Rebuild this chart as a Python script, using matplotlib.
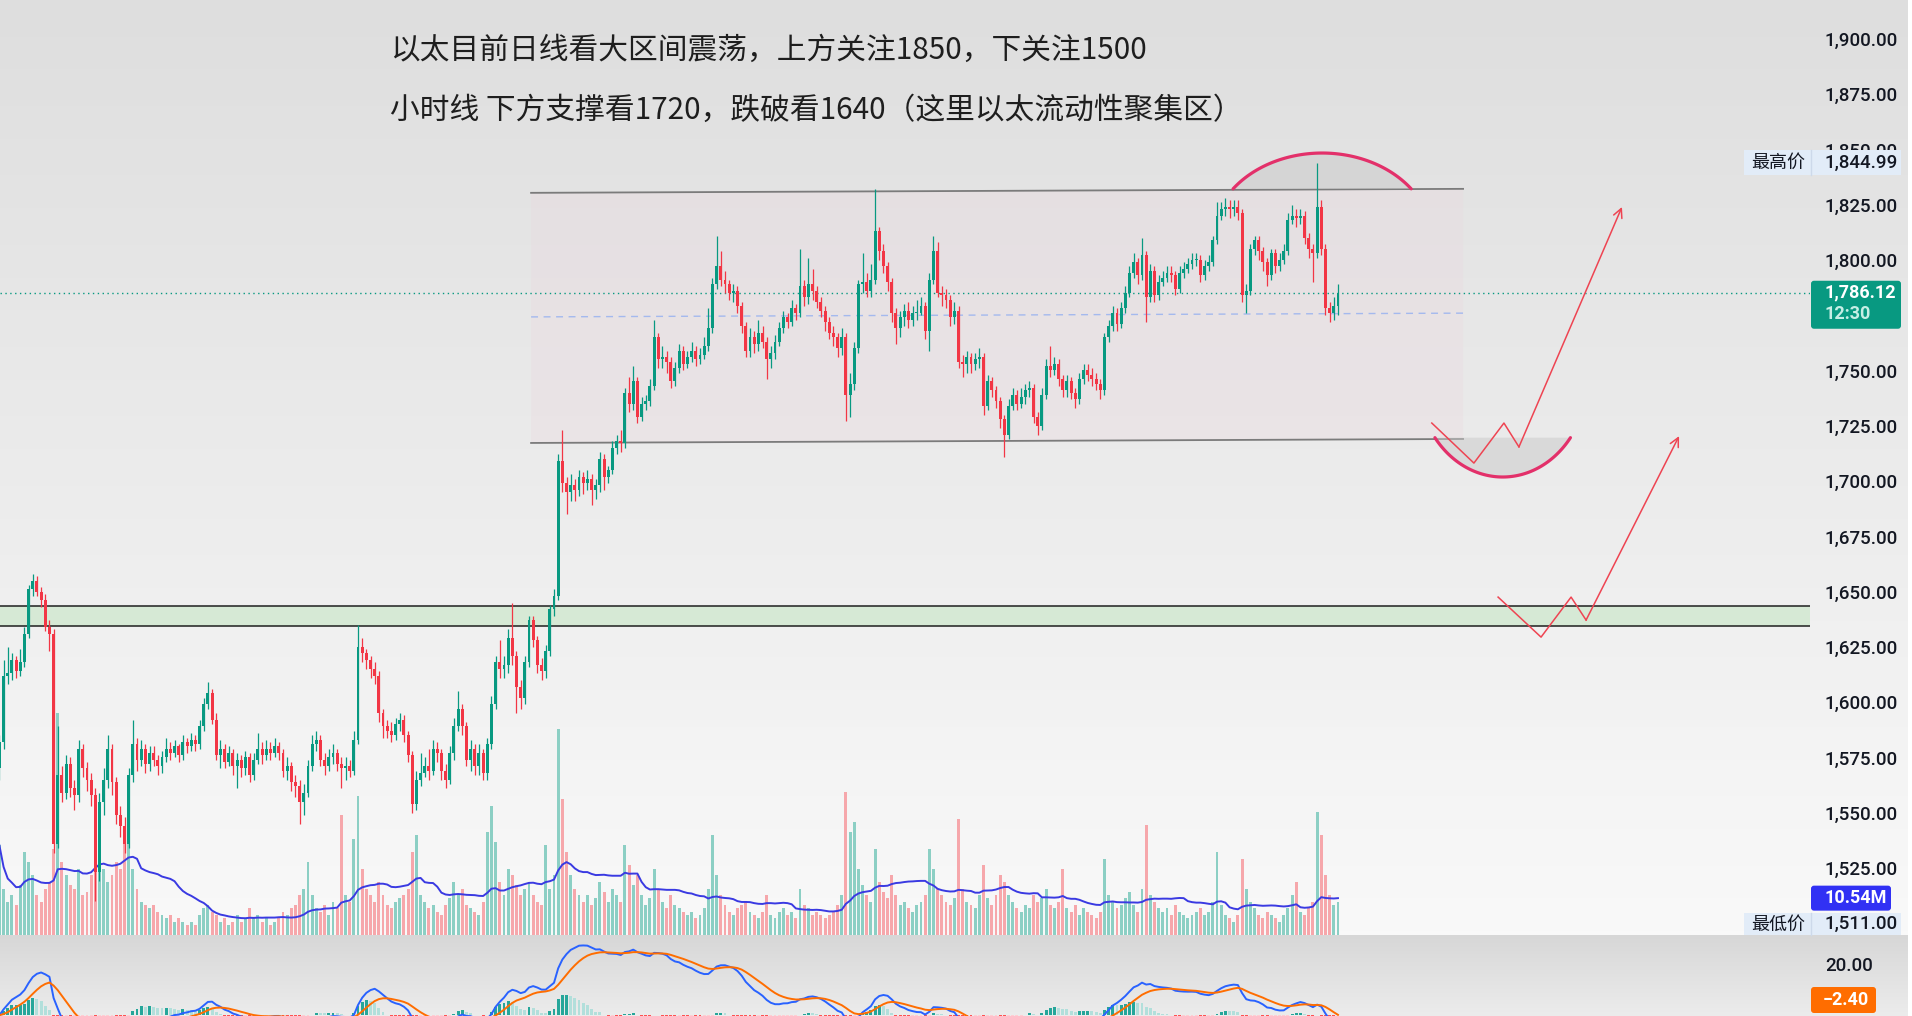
import numpy as np
import pandas as pd
import matplotlib
matplotlib.use('Agg')
from matplotlib import pyplot as plt
from matplotlib.colors import LinearSegmentedColormap
from matplotlib.patches import Rectangle, Polygon, FancyBboxPatch

plt.rcParams['font.family'] = ['Noto Sans CJK SC', 'DejaVu Sans']

# ETH/USDT 1h candles, open of each bar = previous close
first_open = 1571
closes = [
    1583, 1613, 1614, 1620, 1615, 1619, 1632, 1652, 1656, 1651,
    1647, 1635, 1632, 1537, 1568, 1560, 1573, 1562, 1559, 1580,
    1571, 1566, 1559, 1524, 1556, 1566, 1580, 1565, 1550, 1545,
    1537, 1568, 1582, 1575, 1580, 1573, 1578, 1575, 1572, 1576,
    1580, 1578, 1581, 1577, 1583, 1581, 1584, 1582, 1590, 1600,
    1605, 1593, 1577, 1580, 1574, 1578, 1572, 1575, 1571, 1576,
    1568, 1575, 1580, 1577, 1580, 1578, 1581, 1578, 1570, 1572,
    1565, 1563, 1556, 1560, 1572, 1582, 1584, 1575, 1572, 1576,
    1578, 1573, 1571, 1572, 1570, 1584, 1626, 1623, 1620, 1616,
    1613, 1596, 1590, 1588, 1586, 1591, 1593, 1586, 1577, 1555,
    1566, 1569, 1572, 1570, 1580, 1578, 1570, 1566, 1578, 1590,
    1598, 1590, 1575, 1580, 1572, 1578, 1569, 1582, 1600, 1619,
    1616, 1618, 1630, 1622, 1608, 1603, 1619, 1638, 1629, 1618,
    1615, 1624, 1643, 1649, 1710, 1700, 1696, 1699, 1697, 1703,
    1700, 1702, 1697, 1699, 1711, 1703, 1706, 1716, 1719, 1718,
    1741, 1736, 1746, 1730, 1736, 1737, 1744, 1766, 1756, 1757,
    1755, 1746, 1752, 1760, 1754, 1757, 1760, 1756, 1758, 1762,
    1770, 1790, 1798, 1792, 1790, 1786, 1787, 1780, 1771, 1760,
    1766, 1763, 1768, 1764, 1756, 1759, 1764, 1770, 1775, 1773,
    1779, 1777, 1789, 1784, 1790, 1787, 1782, 1778, 1773, 1768,
    1766, 1761, 1766, 1740, 1745, 1761, 1790, 1791, 1787, 1792,
    1814, 1805, 1798, 1791, 1777, 1770, 1775, 1778, 1774, 1777,
    1777, 1780, 1769, 1792, 1805, 1786, 1785, 1783, 1775, 1778,
    1755, 1754, 1757, 1754, 1756, 1757, 1735, 1746, 1742, 1737,
    1729, 1722, 1735, 1740, 1736, 1739, 1742, 1743, 1730, 1726,
    1740, 1753, 1751, 1754, 1747, 1742, 1746, 1741, 1738, 1747,
    1751, 1749, 1747, 1745, 1742, 1766, 1771, 1777, 1772, 1779,
    1786, 1795, 1800, 1794, 1803, 1784, 1796, 1785, 1791, 1793,
    1795, 1794, 1788, 1795, 1797, 1799, 1801, 1801, 1794, 1798,
    1800, 1810, 1821, 1824, 1825, 1824, 1825, 1822, 1785, 1787,
    1806, 1810, 1805, 1800, 1794, 1804, 1798, 1801, 1805, 1819,
    1821, 1820, 1821, 1811, 1806, 1804, 1825, 1806, 1779, 1777,
    1780, 1786.12]
highs = [
    1586, 1620, 1626, 1623, 1622, 1625, 1635, 1654, 1659, 1658,
    1653, 1650, 1638, 1634, 1590, 1572, 1577, 1576, 1566, 1584,
    1582, 1574, 1569, 1562, 1560, 1571, 1586, 1582, 1567, 1554,
    1549, 1571, 1593, 1585, 1584, 1582, 1581, 1581, 1577, 1579,
    1585, 1583, 1584, 1582, 1586, 1585, 1587, 1586, 1593, 1603,
    1610, 1607, 1596, 1584, 1582, 1581, 1580, 1578, 1577, 1579,
    1578, 1578, 1587, 1583, 1584, 1583, 1585, 1583, 1580, 1576,
    1574, 1568, 1566, 1564, 1575, 1586, 1588, 1586, 1578, 1580,
    1582, 1580, 1576, 1576, 1575, 1588, 1636, 1630, 1625, 1622,
    1619, 1615, 1598, 1593, 1592, 1594, 1596, 1595, 1588, 1579,
    1570, 1578, 1576, 1580, 1584, 1583, 1580, 1573, 1581, 1594,
    1606, 1600, 1592, 1584, 1582, 1582, 1580, 1585, 1604, 1622,
    1629, 1622, 1634, 1646, 1624, 1611, 1622, 1640, 1640, 1631,
    1621, 1627, 1645, 1652, 1713, 1724, 1703, 1704, 1702, 1706,
    1705, 1706, 1704, 1702, 1714, 1713, 1708, 1719, 1722, 1724,
    1743, 1748, 1753, 1748, 1739, 1740, 1747, 1774, 1768, 1762,
    1760, 1757, 1755, 1763, 1762, 1760, 1764, 1762, 1761, 1766,
    1779, 1793, 1812, 1805, 1796, 1792, 1790, 1789, 1782, 1773,
    1770, 1769, 1774, 1771, 1766, 1762, 1767, 1773, 1778, 1777,
    1783, 1781, 1806, 1792, 1802, 1797, 1789, 1784, 1780, 1775,
    1771, 1768, 1770, 1768, 1750, 1764, 1792, 1804, 1795, 1799,
    1833, 1816, 1808, 1800, 1793, 1779, 1778, 1781, 1782, 1780,
    1783, 1784, 1782, 1795, 1812, 1809, 1789, 1788, 1785, 1782,
    1780, 1758, 1760, 1759, 1759, 1761, 1759, 1749, 1748, 1744,
    1739, 1731, 1738, 1743, 1742, 1743, 1745, 1746, 1745, 1732,
    1743, 1756, 1762, 1757, 1756, 1749, 1749, 1748, 1743, 1750,
    1754, 1754, 1752, 1750, 1747, 1768, 1774, 1780, 1779, 1782,
    1789, 1798, 1804, 1802, 1811, 1805, 1799, 1798, 1794, 1796,
    1798, 1798, 1796, 1798, 1800, 1802, 1804, 1804, 1803, 1801,
    1803, 1812, 1827, 1827, 1829, 1828, 1828, 1828, 1824, 1790,
    1808, 1812, 1812, 1807, 1802, 1806, 1806, 1804, 1808, 1822,
    1826, 1824, 1824, 1823, 1813, 1808, 1844.99, 1828, 1808, 1782,
    1784, 1790]
lows = [
    1566, 1580, 1609, 1611, 1612, 1613, 1617, 1630, 1649, 1649,
    1644, 1633, 1624, 1533, 1535, 1556, 1557, 1558, 1552, 1556,
    1567, 1561, 1554, 1511, 1520, 1550, 1562, 1559, 1546, 1540,
    1533, 1535, 1565, 1570, 1572, 1569, 1570, 1572, 1568, 1569,
    1574, 1575, 1576, 1574, 1575, 1578, 1579, 1579, 1580, 1588,
    1598, 1591, 1575, 1571, 1571, 1572, 1568, 1562, 1567, 1568,
    1565, 1566, 1573, 1573, 1575, 1575, 1576, 1575, 1567, 1566,
    1561, 1558, 1546, 1550, 1558, 1570, 1579, 1572, 1568, 1570,
    1573, 1570, 1562, 1566, 1567, 1568, 1582, 1619, 1616, 1612,
    1609, 1592, 1585, 1585, 1583, 1584, 1588, 1583, 1574, 1551,
    1552, 1563, 1567, 1566, 1568, 1574, 1566, 1562, 1564, 1575,
    1588, 1586, 1572, 1570, 1568, 1568, 1566, 1566, 1580, 1598,
    1612, 1612, 1614, 1618, 1596, 1598, 1600, 1617, 1626, 1614,
    1611, 1612, 1622, 1640, 1647, 1696, 1686, 1692, 1692, 1694,
    1695, 1697, 1690, 1693, 1696, 1697, 1700, 1704, 1713, 1714,
    1716, 1732, 1733, 1727, 1728, 1733, 1735, 1742, 1752, 1752,
    1750, 1743, 1744, 1750, 1751, 1752, 1755, 1753, 1754, 1756,
    1760, 1768, 1788, 1789, 1786, 1783, 1782, 1777, 1768, 1757,
    1757, 1759, 1760, 1761, 1747, 1752, 1756, 1762, 1768, 1770,
    1771, 1774, 1775, 1780, 1781, 1783, 1779, 1775, 1769, 1765,
    1762, 1757, 1758, 1728, 1730, 1742, 1759, 1786, 1784, 1784,
    1790, 1801, 1795, 1787, 1773, 1763, 1766, 1771, 1770, 1771,
    1774, 1776, 1765, 1760, 1790, 1784, 1780, 1779, 1771, 1772,
    1752, 1748, 1750, 1750, 1751, 1752, 1731, 1733, 1739, 1734,
    1725, 1712, 1720, 1733, 1733, 1734, 1736, 1739, 1727, 1722,
    1724, 1738, 1748, 1749, 1744, 1739, 1739, 1738, 1734, 1736,
    1745, 1746, 1744, 1742, 1738, 1740, 1764, 1769, 1769, 1770,
    1777, 1784, 1793, 1790, 1792, 1773, 1782, 1782, 1783, 1789,
    1791, 1791, 1785, 1786, 1793, 1795, 1797, 1798, 1791, 1792,
    1796, 1798, 1808, 1819, 1821, 1820, 1821, 1819, 1782, 1777,
    1785, 1803, 1801, 1796, 1789, 1792, 1795, 1796, 1799, 1803,
    1817, 1816, 1817, 1808, 1802, 1791, 1802, 1803, 1776, 1773,
    1774, 1776]
# volume in millions
volumes = [
    27, 14, 10, 12, 9, 15, 25, 22, 18, 12, 10, 14, 16,
    26, 67, 22, 18, 15, 14, 20, 12, 13, 18, 38, 30, 20, 16, 18, 22, 20, 29, 33, 20, 14, 10, 9, 8,
    9, 7, 6, 5, 6, 4, 5, 4, 3, 4, 3,
    6, 8, 9, 7, 6, 4, 5, 3, 4,
    6, 4, 5, 8, 5, 6, 4, 5, 3, 4, 5, 7, 6, 8,
    9, 12, 14, 22, 12, 8, 7, 9, 6, 10, 8, 36,
    12, 10, 29, 42, 20, 14, 12, 10, 16, 12, 9, 8, 10, 11,
    12, 14, 25, 30, 12, 10, 8, 9, 7, 6, 9, 11, 16, 12, 14, 9, 8, 7, 6, 10,
    31, 39, 28, 16, 12, 20, 18, 15, 12, 14, 16, 12, 10, 9, 27, 14, 18,
    62, 41, 25, 18, 14, 12, 10, 12, 9, 11, 16, 13, 10, 14, 12, 10, 27, 21, 15, 18, 12, 9, 11, 20, 14, 10, 8, 12,
    9, 8, 7, 6, 7, 5, 6, 8, 14, 30, 18, 12, 9, 7,
    6, 8, 9, 10, 7, 6, 5, 7, 12, 6, 5, 7, 8, 6, 7, 5, 14, 9, 8, 6, 7, 6, 5, 6, 7,
    9, 12, 43, 31, 34, 20, 15, 12, 10, 26, 16, 13, 11, 18, 12,
    9, 10, 8, 7, 9, 10, 12, 26, 20, 14, 12, 10, 9, 11, 35, 14, 10, 9, 8, 12, 21, 11, 9, 12, 18,
    16, 12, 10, 8, 7, 9, 8, 12, 10, 11, 14, 9, 8, 10, 20,
    8, 7, 9, 6, 8, 7, 6, 5, 7, 23, 12, 10, 8, 9, 11, 13, 9, 7, 14, 33,
    12, 10, 8, 7, 8, 6, 9, 7, 6, 5, 6, 7, 8, 6, 7,
    10, 25, 9, 6, 5, 4, 6, 23, 14, 10, 8, 6, 5, 7, 6,
    5, 4, 6, 8, 12, 16, 7, 6, 8, 10, 37, 30, 18, 12, 9, 10]

assert len(closes) == len(highs) == len(lows) == len(volumes) == 322

# 1775 sits under the last-price tag, so the scale does not show it
price_ticks = [1900, 1875, 1850, 1825, 1800, 1750, 1725, 1700,
               1675, 1650, 1625, 1600, 1575, 1550, 1525]
last_price = 1786.12
high_price = 1844.99
low_label = '1,511.00'
vol_ma_label = '10.54M'
macd_tick = 20
macd_last_label = '\u22122.40'
countdown = '12:30'

# drawings (x in bar index, y in price)
zone_lo, zone_hi = 1635.3, 1644.3
box_x = [127.5, 351.0]
box_top = [1831.3, 1833.1]
box_bottom = [1718.2, 1720.0]
box_mid = [1775.2, 1776.9]
arrow1_x = [343.5, 353.6, 360.8, 364.4, 389.1]
arrow1_y = [1727.2, 1709.1, 1727.2, 1716.4, 1824.9]
arrow2_x = [359.4, 369.7, 376.9, 380.5, 402.8]
arrow2_y = [1648.5, 1630.4, 1648.5, 1638.1, 1721.3]
title_lines = ['以太目前日线看大区间震荡，上方关注1850，下关注1500',
               '小时线 下方支撑看1720，跌破看1640（这里以太流动性聚集区）']

UP = '#089981'
DOWN = '#f23645'
W, H = 1912, 1016
PLOT_W = 1810
MAIN_BOTTOM = 81
SCALE_FONT = dict(family=['Roboto', 'DejaVu Sans'], fontsize=13.5, weight='medium')
TAG_FONT = dict(family=['Roboto', 'DejaVu Sans'], fontsize=13, weight='bold')

fig = plt.figure(figsize=(W / 100, H / 100), dpi=100)

# background gradient
bg = fig.add_axes([0, 0, 1, 1], zorder=-10)
bg.set_xlim(0, W)
bg.set_ylim(0, H)
bg.axis('off')
grad = np.linspace(0, 1, 256)[:, None]
bg.imshow(grad, extent=(0, W, MAIN_BOTTOM, H), origin='lower', aspect='auto',
          cmap=LinearSegmentedColormap.from_list('m', ['#f9f9f9', '#dedede']))
bg.imshow(grad, extent=(0, W, 0, MAIN_BOTTOM), origin='lower', aspect='auto',
          cmap=LinearSegmentedColormap.from_list('s', ['#ececec', '#d7d7d7']))
bg.add_patch(Rectangle((1908, 0), 4, H, color='white', lw=0))

rect_main = [0, MAIN_BOTTOM / H, PLOT_W / W, (H - MAIN_BOTTOM) / H]
xlim = (0.6 / 4.17, (PLOT_W + 0.6) / 4.17)

axv = fig.add_axes(rect_main, zorder=1)
ax = fig.add_axes(rect_main, zorder=2)
axm = fig.add_axes([0, 0, PLOT_W / W, MAIN_BOTTOM / H], zorder=2)
for a in (axv, ax, axm):
    a.set_facecolor('none')
    a.set_xlim(*xlim)
    a.axis('off')

ax.set_ylim(1495.7, 1918.5)

idx = np.arange(len(closes))
c = np.array(closes, float)
o = np.concatenate([[first_open], c[:-1]])
hi = np.maximum(np.array(highs, float), np.maximum(o, c))
lo = np.minimum(np.array(lows, float), np.minimum(o, c))
up = c >= o
col = np.where(up, UP, DOWN)

# zones and box
ax.axhspan(zone_lo, zone_hi, color='#d6e9d5', lw=0, zorder=1)
ax.axhline(zone_lo, color='#1f1f1f', lw=1.1, zorder=1.5)
ax.axhline(zone_hi, color='#1f1f1f', lw=1.1, zorder=1.5)
ax.add_patch(Polygon([(box_x[0], box_top[0]), (box_x[1], box_top[1]),
                      (box_x[1], box_bottom[1]), (box_x[0], box_bottom[0])],
                     closed=True, facecolor=(0.92, 0.84, 0.87, 0.28), lw=0, zorder=1))
ax.plot(box_x, box_top, color='#7b7b7b', lw=1.3, zorder=2)
ax.plot(box_x, box_bottom, color='#7b7b7b', lw=1.3, zorder=2)
ax.plot(box_x, box_mid, color='#a4b9ee', lw=1.0, ls=(0, (5, 4)), zorder=2)
ax.axhline(last_price, color=UP, lw=1.0, ls=(0, (1, 2.5)), zorder=2)

# candles
ax.vlines(idx, lo, hi, colors=col, lw=0.9, zorder=3)
ax.bar(idx, np.maximum(np.abs(c - o), 0.45), bottom=np.minimum(o, c), width=0.7,
       color=col, lw=0, zorder=4)

# arcs
t = np.radians(np.linspace(36, 144, 80))
ax_x = 317.2 + 26.4 * np.cos(t)
ax_y = 1810.0 + 39.3 * np.sin(t)
ax.fill(ax_x, ax_y, color='#c9c9c9', alpha=0.5, lw=0, zorder=2.5)
ax.plot(ax_x, ax_y, color='#e3306a', lw=2.3, zorder=5, solid_capstyle='round')
t = np.radians(np.linspace(217.2, 322.8, 80))
bx_x = 360.5 + 20.4 * np.cos(t)
bx_y = 1747.8 + 45.0 * np.sin(t)
ax.fill(bx_x, bx_y, color='#c9c9c9', alpha=0.5, lw=0, zorder=2.5)
ax.plot(bx_x, bx_y, color='#e3306a', lw=2.3, zorder=5, solid_capstyle='round')

# zigzag arrows
for xs, ys in ((arrow1_x, arrow1_y), (arrow2_x, arrow2_y)):
    ax.plot(xs[:-1], ys[:-1], color='#ee4452', lw=1.1, zorder=5)
    ax.annotate('', xy=(xs[-1], ys[-1]), xytext=(xs[-2], ys[-2]),
                arrowprops=dict(arrowstyle='->', color='#ee4452', lw=1.1,
                                mutation_scale=16, shrinkA=0, shrinkB=0),
                zorder=5)

# volume
vol = np.array(volumes, float)
axv.set_ylim(0, (H - MAIN_BOTTOM) / 3.32)
axv.bar(idx, vol, width=0.7, color=np.where(up, '#8ccfc4', '#f6a7ab'), lw=0)
vol_ma = pd.Series(vol).rolling(20, min_periods=1).mean()
axv.plot(idx, vol_ma, color='#3a3ae2', lw=1.4)

# MACD (12, 26, 9)
cs = pd.Series(c)
macd = cs.ewm(span=12, adjust=False).mean() - cs.ewm(span=26, adjust=False).mean()
signal = macd.ewm(span=9, adjust=False).mean()
hist = macd - signal
prev = hist.shift(1).fillna(0)
hcol = np.where(hist >= 0, np.where(hist >= prev, '#26a69a', '#b2dfdb'),
                np.where(hist < prev, '#ff5252', '#ffcdd2'))
axm.set_ylim(-0.3, 32.4)
axm.bar(idx, hist, width=0.7, color=hcol, lw=0)
axm.plot(idx, macd, color='#2962ff', lw=1.4)
axm.plot(idx, signal, color='#ff6d00', lw=1.4)

# overlay: texts, price scale, tags
ov = fig.add_axes([0, 0, 1, 1], zorder=10)
ov.set_xlim(0, W)
ov.set_ylim(0, H)
ov.axis('off')
ov.patch.set_alpha(0)


def yd(axis, v):
    return axis.transData.transform((0, v))[1]


ov.text(390, H - 50, title_lines[0], fontsize=21.4, va='center', color='#1e1e1e')
ov.text(390, H - 110, title_lines[1], fontsize=21.4, va='center', color='#1e1e1e')

LX = 1825
for p in price_ticks:
    ov.text(LX, yd(ax, p), f'{p:,.2f}', va='center', ha='left',
            color='#131722', zorder=1, **SCALE_FONT)
ov.text(LX, yd(axm, macd_tick), f'{macd_tick:.2f}', va='center',
        ha='left', color='#131722', zorder=1, **SCALE_FONT)

# highest price tag
yh = yd(ax, high_price)
ov.add_patch(Rectangle((1744, yh - 12.5), 157, 25, color='#e2ecf8', lw=0, zorder=3))
ov.plot([1811, 1811], [yh - 12.5, yh + 12.5], color='#cdd9ea', lw=1, zorder=3.5)
ov.text(1751, yh, '最高价', fontsize=13, va='center', color='#131722', zorder=4)
ov.text(LX, yh, f'{high_price:,.2f}', va='center', color='#131722', zorder=4,
        **SCALE_FONT)

# last price tag
yl = yd(ax, last_price)
ov.add_patch(FancyBboxPatch((1811, yl - 36), 90, 48, boxstyle='round,pad=0,rounding_size=3',
                            color=UP, lw=0, zorder=3))
ov.text(LX, yl, f'{last_price:,.2f}', va='center', color='white', zorder=4, **TAG_FONT)
ov.text(LX, yl - 21, countdown, va='center', color='#c6eee5', zorder=4, **TAG_FONT)

# volume MA tag
ym = yd(axv, vol_ma.iloc[-1])
ov.add_patch(FancyBboxPatch((1811, ym - 12.5), 80, 25, boxstyle='round,pad=0,rounding_size=3',
                            color='#3131f4', lw=0, zorder=3))
ov.text(LX, ym, vol_ma_label, va='center', color='white', zorder=4, **TAG_FONT)

# lowest price tag
ov.add_patch(Rectangle((1744, MAIN_BOTTOM), 157, 22, color='#e2ecf8', lw=0, zorder=3.2))
ov.plot([1811, 1811], [MAIN_BOTTOM, MAIN_BOTTOM + 22], color='#cdd9ea', lw=1, zorder=3.5)
ov.text(1751, MAIN_BOTTOM + 10, '最低价', fontsize=13, va='center', color='#131722', zorder=4)
ov.text(LX, MAIN_BOTTOM + 11, low_label, va='center', color='#131722', zorder=4,
        **SCALE_FONT)

# MACD tag
ov.add_patch(FancyBboxPatch((1811, 3), 65, 26, boxstyle='round,pad=0,rounding_size=3',
                            color='#ff6d00', lw=0, zorder=3))
ov.text(LX - 2, 16, macd_last_label, va='center', color='white', zorder=4, **TAG_FONT)

fig.savefig('out.png', dpi=100)
